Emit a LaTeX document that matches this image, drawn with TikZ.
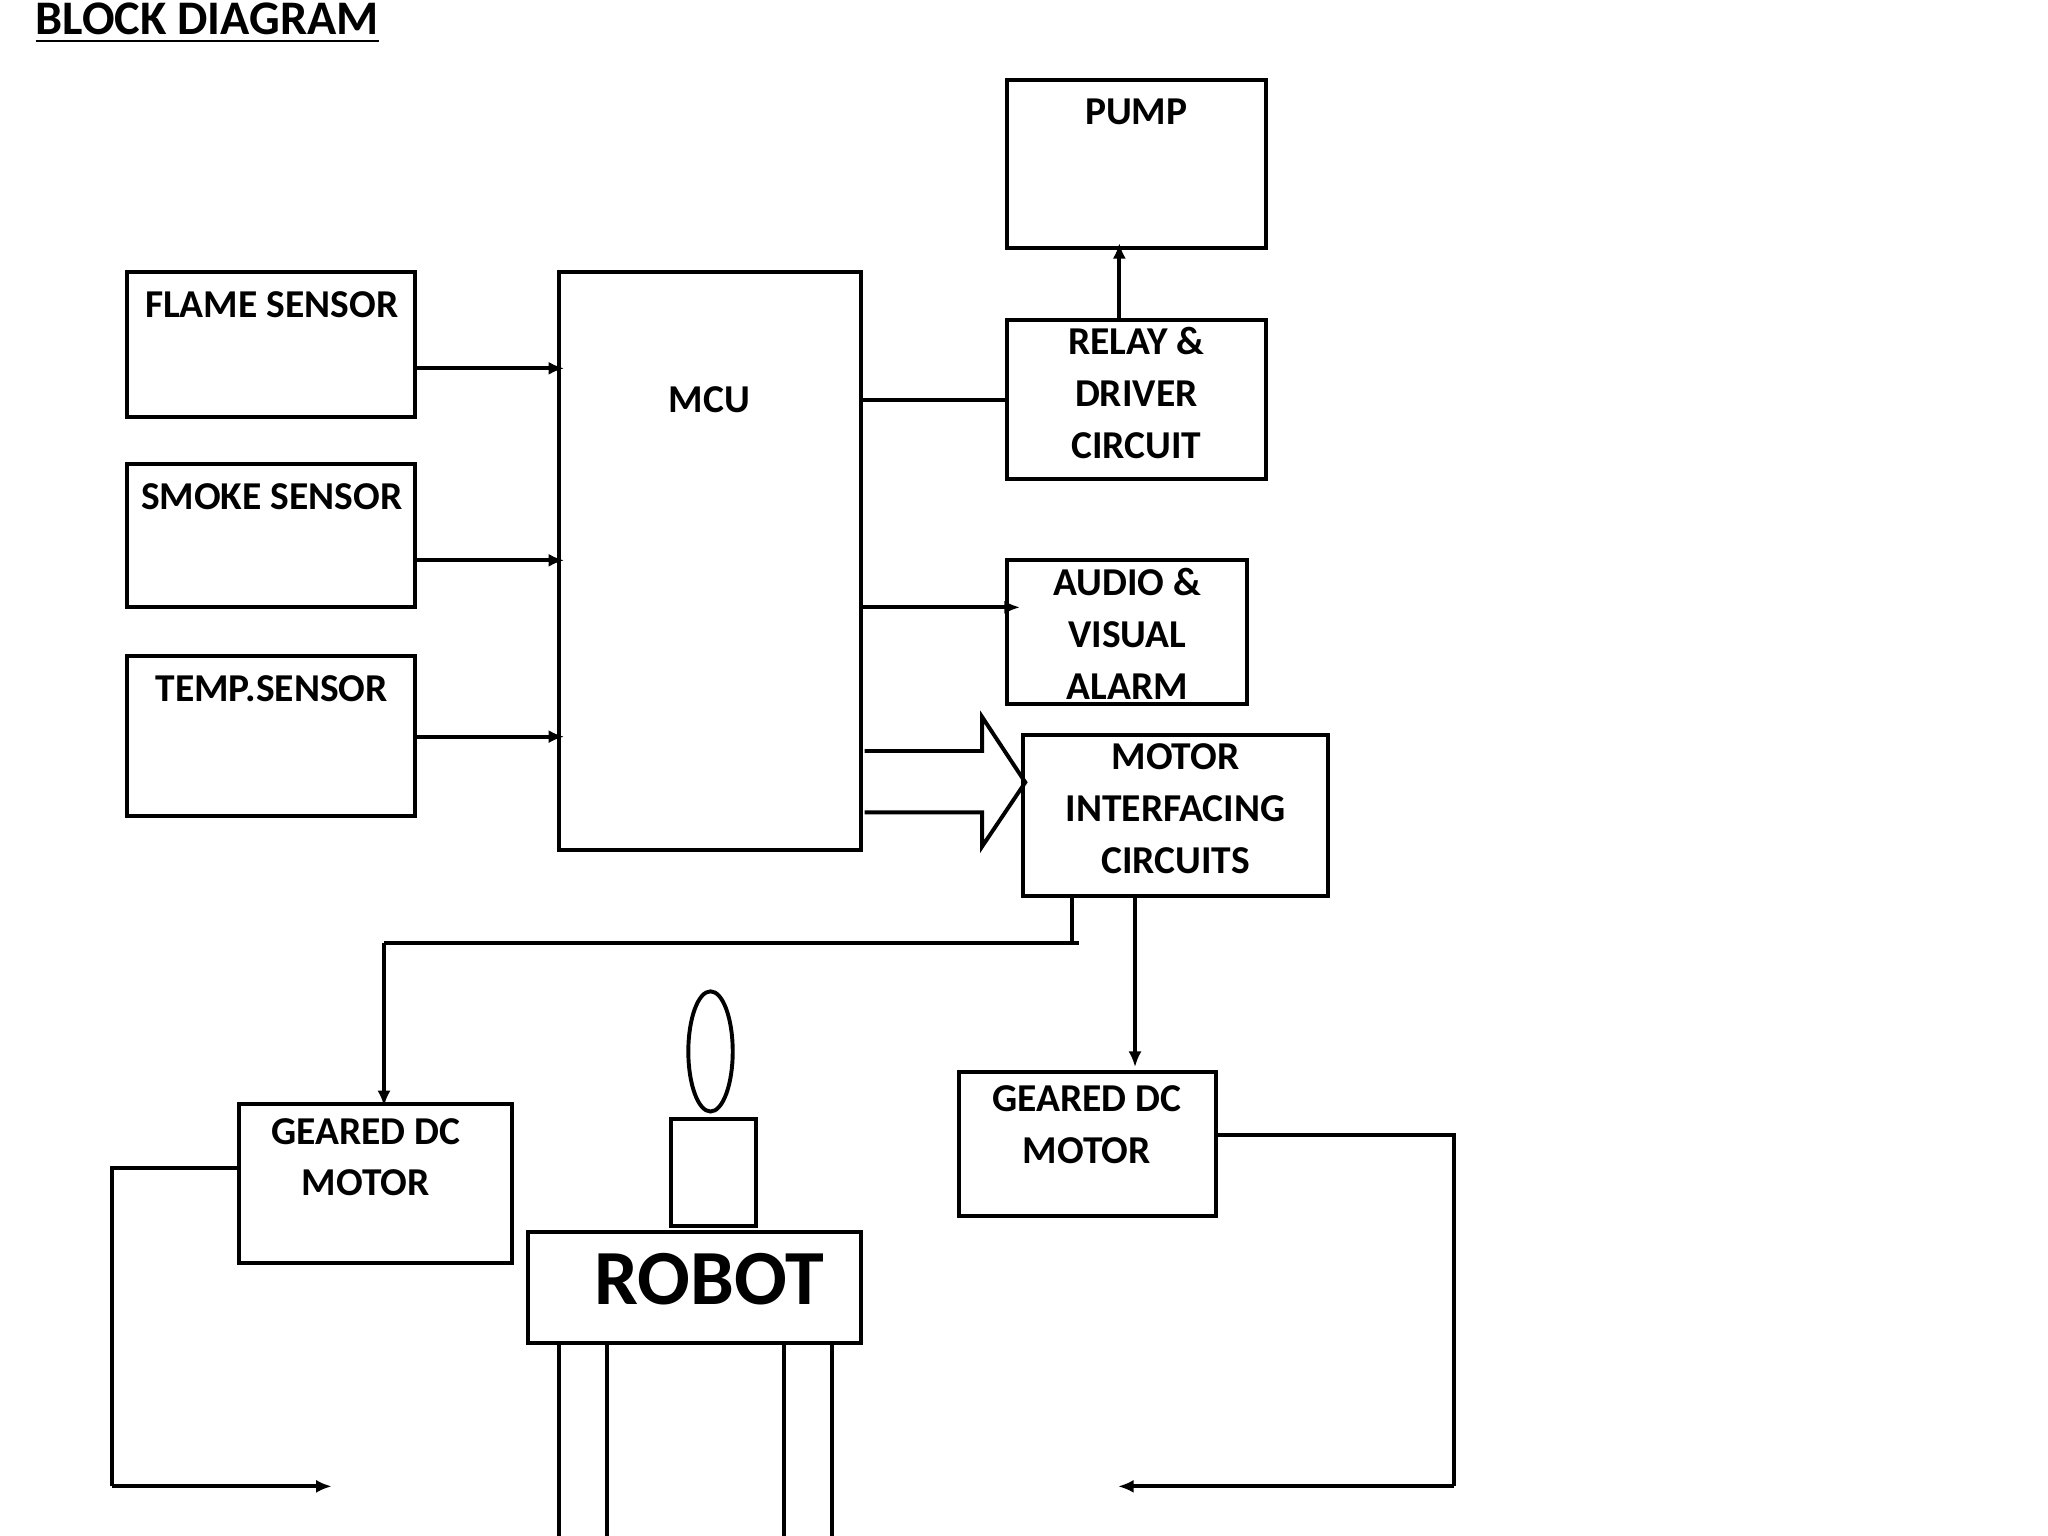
\documentclass[tikz,border=0pt]{standalone}
\usepackage{fontspec}
\setmainfont{Carlito}
\usetikzlibrary{arrows.meta}
\begin{document}
\begin{tikzpicture}[x=0.01cm,y=-0.01cm,line width=0.03cm,
  box/.style={draw},
  lbl/.style={font=\bfseries\fontsize{8.6}{11.3}\selectfont,align=center},
  arr/.style={-{Latex[length=0.12cm,width=0.1cm]}}]
\useasboundingbox (0,0) rectangle (1568,1176);
\node[anchor=west,font=\bfseries\fontsize{10.5}{12}\selectfont] (title) at (14,18) {\underline{BLOCK DIAGRAM}};
% boxes
\draw (771,61) rectangle (969,190); \node[lbl] (pump) at (870,86) {PUMP};
\draw (771,245) rectangle (969,367); \node[lbl] (relay) at (870,301) {RELAY \&\\DRIVER\\CIRCUIT};
\draw (428,208) rectangle (659,651); \node[lbl] (mcu) at (543,306) {MCU};
\draw (97,208) rectangle (318,319); \node[lbl] (flame) at (208,233) {FLAME SENSOR};
\draw (97,355) rectangle (318,465); \node[lbl] (smoke) at (208,380) {SMOKE SENSOR};
\draw (97,502) rectangle (318,625); \node[lbl] (temp) at (208,527) {TEMP.SENSOR};
\draw (771,429) rectangle (955,539); \node[lbl] (audio) at (863,485) {AUDIO \&\\VISUAL\\ALARM};
\draw (783,563) rectangle (1017,686); \node[lbl] (motor) at (900,619) {MOTOR\\INTERFACING\\CIRCUITS};
\draw (183,845) rectangle (392,967); \node[lbl] (gl) at (280,886) {GEARED DC\\MOTOR};
\draw (734,821) rectangle (931,931); \node[lbl] (gr) at (832,861) {GEARED DC\\MOTOR};
% coordinates
\coordinate (f1) at (318,282); \coordinate (f2) at (432,282);
\coordinate (s1) at (318,429); \coordinate (s2) at (432,429);
\coordinate (t1) at (318,564); \coordinate (t2) at (432,564);
\draw[arr] (f1) -- (f2); \draw[arr] (s1) -- (s2); \draw[arr] (t1) -- (t2);
\coordinate (m1) at (659,306); \coordinate (r1) at (771,306);
\draw (m1) -- (r1);
\coordinate (r2) at (857,245); \coordinate (p2) at (857,186);
\draw[arr] (r2) -- (p2);
\coordinate (m2) at (659,465); \coordinate (a2) at (781,465);
\draw[arr] (m2) -- (a2);
% hollow arrow
\draw (662,575) -- (752,575) -- (752,549) -- (785,599) -- (752,648) -- (752,622) -- (662,622);
% motor lines
\coordinate (mi1) at (821,686); \coordinate (mi2) at (821,722);
\coordinate (mi3) at (826,722); \coordinate (g1) at (294,722); \coordinate (g2) at (294,847);
\draw (mi1) -- (mi2); \draw (mi3) -- (g1); \draw[arr] (g1) -- (g2);
\coordinate (mj1) at (869,686); \coordinate (mj2) at (869,817);
\draw[arr] (mj1) -- (mj2);
% wheels lines
\coordinate (w1) at (183,894); \coordinate (w2) at (86,894); \coordinate (w3) at (86,1138); \coordinate (w4) at (254,1138);
\draw (w1) -- (w2) -- (w3); \draw[arr] (w3) -- (w4);
\coordinate (v1) at (931,869); \coordinate (v2) at (1113,869); \coordinate (v3) at (1113,1138); \coordinate (v4) at (856,1138);
\draw (v1) -- (v2) -- (v3); \draw[arr] (v3) -- (v4);
% robot
\draw (544,805) ellipse [x radius=17, y radius=46];
\draw (514,857) rectangle (579,939);
\draw (404,943) rectangle (659,1028);
\node[font=\bfseries\fontsize{17}{20}\selectfont] (robot) at (543,979) {ROBOT};
\draw (428,1178) -- (428,1028) -- (465,1028) -- (465,1178);
\draw (600,1178) -- (600,1028) -- (637,1028) -- (637,1178);
\end{tikzpicture}
\end{document}
